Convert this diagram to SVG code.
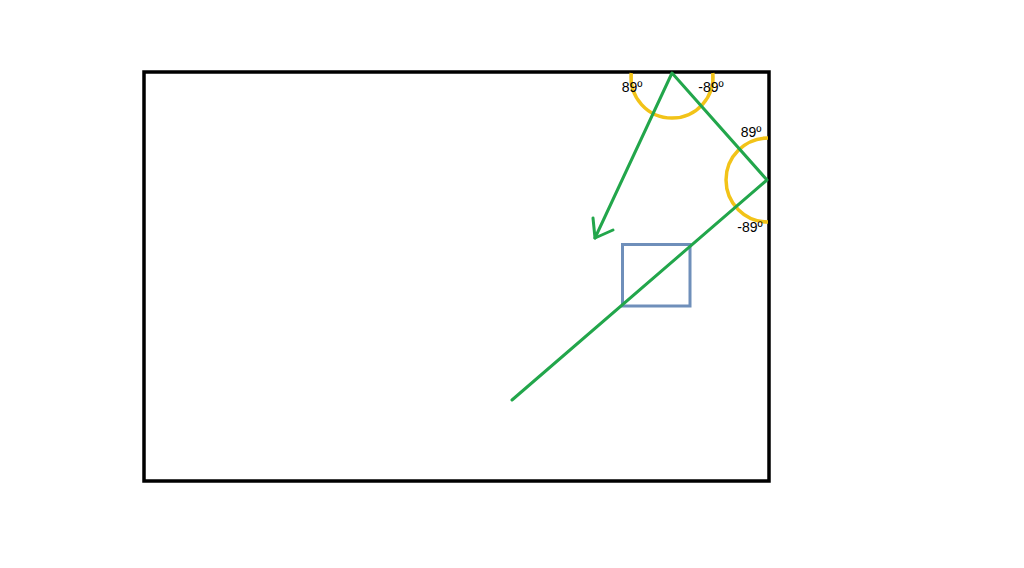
<svg xmlns="http://www.w3.org/2000/svg" width="1024" height="568" viewBox="0 0 1024 568">
<style>
.arc{fill:none;stroke:#F2C318;stroke-width:3.5}
.ray{fill:none;stroke:#22A64B;stroke-width:3;stroke-linecap:round;stroke-linejoin:round}
.lbl{font-family:"Liberation Sans",Arial,sans-serif;font-size:14px;fill:#000;text-anchor:middle}
</style>
<rect width="1024" height="568" fill="#fff"/>
<g id="frame"><rect x="144" y="72" width="625" height="409" fill="none" stroke="#000" stroke-width="3.5"/></g>
<g id="angles">
<path class="arc" d="M631.2,73 A41 41 0 1 0 712.8,73"/>
<path class="arc" d="M768,138 A42 42 0 0 0 768,222"/>
</g>
<g id="box"><rect x="622.5" y="244.5" width="67.5" height="61.5" fill="none" stroke="#6F8FBA" stroke-width="3"/></g>
<g id="connectors">
<polyline class="ray" points="595,238 672,73 767,180 512,400"/>
<polyline class="ray" points="593,218 595,238 613,230"/>
</g>
<g id="labels">
<text class="lbl" x="632" y="92">89º</text>
<text class="lbl" x="711" y="92">-89º</text>
<text class="lbl" x="751" y="137">89º</text>
<text class="lbl" x="750" y="232">-89º</text>
</g>
</svg>
